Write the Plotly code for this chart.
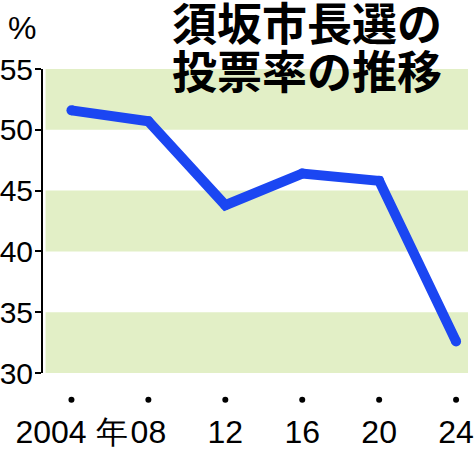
import plotly.graph_objects as go

# 須坂市長選の投票率 (%)
years = [2004, 2008, 2012, 2016, 2020, 2024]
turnout = [51.6, 50.7, 43.8, 46.4, 45.8, 32.6]
year_labels = ['2004 年', '08', '12', '16', '20', '24']
y_ticks = [30, 35, 40, 45, 50, 55]
bands = [(30, 35), (40, 45), (50, 55)]

NUM_FONT = dict(family='Liberation Sans, Arial', size=32, color='black')
LINE_BLUE = '#1b46f2'
BAND_GREEN = '#e2efc6'

fig = go.Figure()

# small year dots sit on their own strip under the chart
fig.add_trace(go.Scatter(
    x=years, y=[0.5] * len(years), mode='markers', xaxis='x', yaxis='y2',
    marker=dict(color='black', size=6), hoverinfo='skip'
))

fig.add_trace(go.Scatter(
    x=years, y=turnout, mode='lines+markers', xaxis='x', yaxis='y',
    line=dict(color=LINE_BLUE, width=10),
    marker=dict(color=LINE_BLUE, size=10),
    cliponaxis=False
))

for lo, hi in bands:
    fig.add_shape(type='rect', xref='paper', yref='y', x0=0.006, x1=1, y0=lo, y1=hi,
                  fillcolor=BAND_GREEN, line=dict(width=0), layer='below')

title_font = dict(family='Noto Sans CJK JP', size=45, color='black', weight='bold')
fig.add_annotation(text='須坂市長選の', xref='paper', yref='paper', x=0.299, y=1.138,
                   xanchor='left', yanchor='middle', showarrow=False, font=title_font)
fig.add_annotation(text='投票率の推移', xref='paper', yref='paper', x=0.299, y=1.0,
                   xanchor='left', yanchor='middle', showarrow=False, font=title_font)
fig.add_annotation(text='%', xref='paper', yref='paper', x=-0.05, y=1.12,
                   xanchor='center', yanchor='middle', showarrow=False,
                   font=dict(NUM_FONT, size=32))

fig.update_layout(
    width=474, height=456, showlegend=False,
    margin=dict(l=43, r=6, t=69, b=46),
    plot_bgcolor='white', paper_bgcolor='white',
    xaxis=dict(range=[2002.52, 2024.62], tickvals=years, ticktext=year_labels,
               anchor='y2', showline=False, showgrid=False, zeroline=False,
               ticks='', tickangle=0, automargin=False, tickfont=NUM_FONT),
    yaxis=dict(domain=[0.1085, 1], range=[30, 55], tickvals=y_ticks,
               showline=True, linecolor='black', linewidth=2,
               ticks='outside', ticklen=6, tickwidth=2, tickcolor='black',
               ticklabelstandoff=-4,
               showgrid=False, zeroline=False, automargin=False,
               tickfont=dict(NUM_FONT, size=30)),
    yaxis2=dict(domain=[0, 0.06], range=[0, 1], visible=False),
)

# drop the default page margin so the figure sits flush in the window
fig.write_html('out.html', config={'displayModeBar': False},
               post_script="document.body.style.margin='0';")
